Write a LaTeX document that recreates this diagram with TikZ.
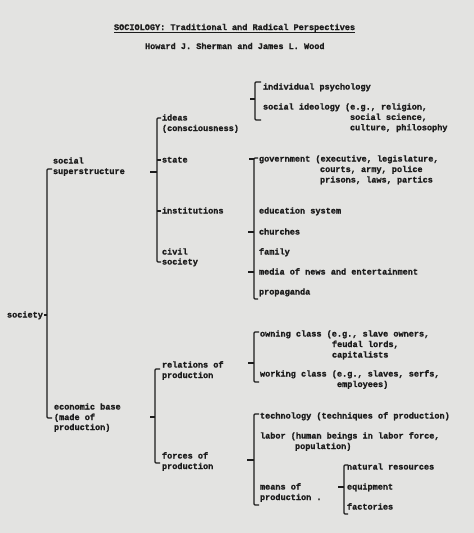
\documentclass[tikz,border=0pt]{standalone}
\usepackage{fontspec}
\setmainfont{Liberation Mono}[BoldFont={Liberation Mono Bold},BoldFeatures={FakeBold=1.2}]
\begin{document}
\begin{tikzpicture}[x=1pt,y=-1pt,
  txt/.style={anchor=base west,inner sep=0pt,outer sep=0pt,font=\fontsize{8.55}{10.4}\selectfont\bfseries,text=ink},
  brk/.style={draw=ink,line width=1.1pt,rounded corners=1pt},
  tick/.style={draw=ink,line width=1.1pt}]
\definecolor{ink}{HTML}{1C1C1C}
\definecolor{paper}{HTML}{E3E3E1}
\fill[paper] (0,0) rectangle (474,533);
\useasboundingbox (0,0) rectangle (474,533);
% heading
\node[txt] (title) at (114,30) {SOCIOLOGY: Traditional and Radical Perspectives};
\draw[tick,line width=0.9pt] ([yshift=-2pt]title.base west) -- ([yshift=-2pt]title.base east);
\node[txt] (authors) at (145,49) {Howard J. Sherman and James L. Wood};
% level 1
\node[txt] (society) at (7,317.5) {society};
% level 2
\node[txt] (social) at (53,163.5) {social};
\node[txt] (superstr) at (53,174) {superstructure};
\node[txt] (econ1) at (54,409.5) {economic base};
\node[txt] (econ2) at (54,420) {(made of};
\node[txt] (econ3) at (54,430) {production)};
% level 3
\node[txt] (ideas) at (162,120.5) {ideas};
\node[txt] (consc) at (162,131) {(consciousness)};
\node[txt] (state) at (162,162.5) {state};
\node[txt] (instit) at (162,213.5) {institutions};
\node[txt] (civil1) at (162,254.5) {civil};
\node[txt] (civil2) at (162,264.5) {society};
\node[txt] (rel1) at (162,367.5) {relations of};
\node[txt] (rel2) at (162,378) {production};
\node[txt] (forces1) at (162,458.5) {forces of};
\node[txt] (forces2) at (162,469) {production};
% level 4
\node[txt] (indpsy) at (263,89.5) {individual psychology};
\node[txt] (socid1) at (263,109.5) {social ideology (e.g., religion,};
\node[txt] (socid2) at (350,119.9) {social science,};
\node[txt] (socid3) at (350,130.3) {culture, philosophy};
\node[txt] (gov1) at (259,161.5) {government (executive, legislature,};
\node[txt] (gov2) at (320,172) {courts, army, police};
\node[txt] (gov3) at (320,182.5) {prisons, laws, partics};
\node[txt] (edu) at (259,213.5) {education system};
\node[txt] (church) at (259,234.5) {churches};
\node[txt] (family) at (259,254.5) {family};
\node[txt] (media) at (259,274.5) {media of news and entertainment};
\node[txt] (prop) at (259,294.5) {propaganda};
\node[txt] (own1) at (260,336.5) {owning class (e.g., slave owners,};
\node[txt] (own2) at (332,347) {feudal lords,};
\node[txt] (own3) at (332,357.5) {capitalists};
\node[txt] (work1) at (260,376.5) {working class (e.g., slaves, serfs,};
\node[txt] (work2) at (337,387) {employees)};
\node[txt] (tech) at (260,418.5) {technology (techniques of production)};
\node[txt] (labor1) at (260,438.5) {labor (human beings in labor force,};
\node[txt] (labor2) at (295,449) {population)};
\node[txt] (means1) at (260,489.5) {means of};
\node[txt] (means2) at (260,500) {production .};
% level 5
\node[txt] (natres) at (347,469.5) {natural resources};
\node[txt] (equip) at (347,489.5) {equipment};
\node[txt] (fact) at (347,509.5) {factories};
% brackets
% society
\draw[brk] (52,169) -- (47,169) -- (47,418) -- (52,418);
\draw[tick] (44,315) -- (47,315);
% social superstructure -> ideas..civil society
\draw[brk] (161,118) -- (157,118) -- (157,262) -- (161,262);
\draw[tick] (157,160) -- (161,160);
\draw[tick] (157,211) -- (161,211);
\draw[tick] (150,172) -- (157,172);
% ideas -> psychology/ideology
\draw[brk] (261,82) -- (255,82) -- (255,120) -- (261,120);
\draw[tick] (250,99) -- (255,99);
% state/institutions/civil society -> government..propaganda
\draw[brk] (258,158) -- (254,158) -- (254,299) -- (258,299);
\draw[tick] (249,159) -- (254,159);
\draw[tick] (248,232) -- (254,232);
\draw[tick] (248,272) -- (254,272);
% economic base
\draw[brk] (160,369) -- (155,369) -- (155,463) -- (160,463);
\draw[tick] (150,417) -- (155,417);
% relations of production
\draw[brk] (259,332) -- (254,332) -- (254,382) -- (259,382);
\draw[tick] (248,363) -- (254,363);
% forces of production
\draw[brk] (259,414) -- (254,414) -- (254,505) -- (259,505);
\draw[tick] (247,460) -- (254,460);
% means of production
\draw[brk] (348,465) -- (344,465) -- (344,514) -- (348,514);
\draw[tick] (338,487) -- (344,487);
\end{tikzpicture}
\end{document}
